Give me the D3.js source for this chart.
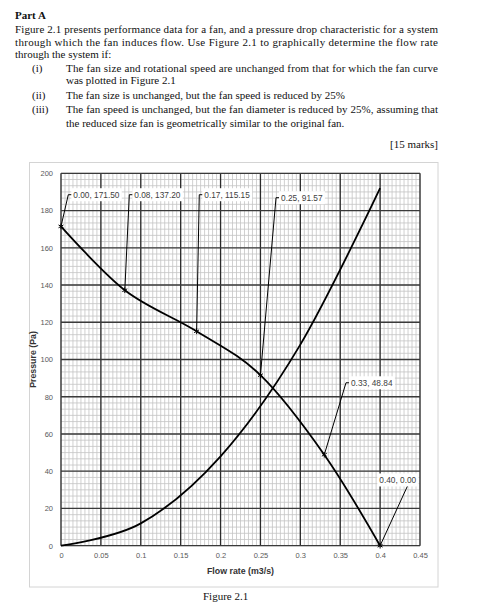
<!DOCTYPE html>
<html><head><meta charset="utf-8">
<script src="https://cdn.jsdelivr.net/npm/d3@7"></script>
<style>
html,body{margin:0;padding:0;background:#fff;}
svg{display:block;}
</style></head>
<body>
<svg id="c" width="478" height="611"></svg>
<script>
// ---- data ----
const fanFlow = [0.00, 0.08, 0.17, 0.25, 0.33, 0.40];
const fanPressure = [171.50, 137.20, 115.15, 91.57, 48.84, 0.00];
const sysFlow = [0, 0.1, 0.2, 0.3, 0.4];
const sysPressure = [0, 12, 48, 108, 192];
const xTicks = [0, 0.05, 0.1, 0.15, 0.2, 0.25, 0.3, 0.35, 0.4, 0.45];
const xTickLabels = ["0", "0.05", "0.1", "0.15", "0.2", "0.25", "0.3", "0.35", "0.4", "0.45"];
const yTicks = [0, 20, 40, 60, 80, 100, 120, 140, 160, 180, 200];
// label anchor positions (data units) for the data callouts
const labelX = [0.0154, 0.0919, 0.1796, 0.2758, 0.3635, 0.399];
const labelY = [188.5, 188.5, 188.5, 186.9, 87.5, 35.3];

const svg = d3.select("#c");
const serif = "'Liberation Serif','Times New Roman',serif";
const sans = "'Liberation Sans',Arial,sans-serif";
const narrow = "'Liberation Sans Narrow','Liberation Sans',Arial,sans-serif";

// ---- question text ----
const T = svg.append("g").attr("font-family", serif).attr("font-size", 11).attr("fill", "#111");
T.append("text").attr("x", 15).attr("y", 19).attr("font-weight", "bold").text("Part A");
const lines = [
  {x:15, y:32.5, t:"Figure 2.1 presents performance data for a fan, and a pressure drop characteristic for a system", w:423},
  {x:15, y:45.5, t:"through which the fan induces flow. Use Figure 2.1 to graphically determine the flow rate", w:423},
  {x:15, y:58, t:"through the system if:"},
  {x:32, y:71.5, t:"(i)"},
  {x:66, y:71.5, t:"The fan size and rotational speed are unchanged from that for which the fan curve", w:372},
  {x:66, y:84, t:"was plotted in Figure 2.1"},
  {x:32, y:99, t:"(ii)"},
  {x:66, y:99, t:"The fan size is unchanged, but the fan speed is reduced by 25%"},
  {x:32, y:112.5, t:"(iii)"},
  {x:66, y:112.5, t:"The fan speed is unchanged, but the fan diameter is reduced by 25%, assuming that", w:372},
  {x:66, y:126.5, t:"the reduced size fan is geometrically similar to the original fan."}
];
lines.forEach(l => {
  const e = T.append("text").attr("x", l.x).attr("y", l.y).text(l.t);
  if (l.w) e.attr("textLength", l.w).attr("lengthAdjust", "spacing");
});
T.append("text").attr("x", 438).attr("y", 147.5).attr("text-anchor", "end").text("[15 marks]");

// ---- chart frame ----
svg.append("rect").attr("x", 29.5).attr("y", 162.5).attr("width", 408.5).attr("height", 424.5)
  .attr("fill", "none").attr("stroke", "#d4d4d4").attr("stroke-width", 1);

// ---- scales ----
const x = d3.scaleLinear().domain([0, 0.45]).range([61, 420]);
const y = d3.scaleLinear().domain([0, 200]).range([545.7, 173.3]);

// grid
const G = svg.append("g");
const minorX = d3.range(0, 91).map(i => i * 0.005);
const minorY = d3.range(0, 61).map(i => i * 20 / 6);
G.selectAll("line.mx").data(minorX).join("line")
  .attr("x1", d => x(d)).attr("x2", d => x(d)).attr("y1", y(0)).attr("y2", y(200))
  .attr("stroke", "#c4c4c4").attr("stroke-width", 0.8);
G.selectAll("line.my").data(minorY).join("line")
  .attr("y1", d => y(d)).attr("y2", d => y(d)).attr("x1", x(0)).attr("x2", x(0.45))
  .attr("stroke", "#c4c4c4").attr("stroke-width", 0.8);
G.selectAll("line.Mx").data(xTicks).join("line")
  .attr("x1", d => x(d)).attr("x2", d => x(d)).attr("y1", y(0)).attr("y2", y(200))
  .attr("stroke", "#2a2a2a").attr("stroke-width", 1.3);
G.selectAll("line.My").data(yTicks).join("line")
  .attr("y1", d => y(d)).attr("y2", d => y(d)).attr("x1", x(0)).attr("x2", x(0.45))
  .attr("stroke", "#3a3a3a").attr("stroke-width", 1.3);

// axes
const ax = svg.append("g").attr("transform", `translate(0,${y(0)})`)
  .call(d3.axisBottom(x).tickValues(xTicks).tickFormat((d, i) => xTickLabels[i]).tickSize(0).tickPadding(7));
const ay = svg.append("g").attr("transform", `translate(${x(0)},0)`)
  .call(d3.axisLeft(y).tickValues(yTicks).tickSize(0).tickPadding(8));
[ax, ay].forEach(a => {
  a.select(".domain").remove();
  a.selectAll("text").attr("font-family", sans).attr("font-size", 7.5).attr("fill", "#595959");
});

// axis titles
svg.append("text").attr("x", 240.5).attr("y", 574).attr("text-anchor", "middle")
  .attr("font-family", narrow).attr("font-size", 8.8).attr("font-weight", "bold").attr("fill", "#333")
  .text("Flow rate (m3/s)");
svg.append("text").attr("transform", "translate(36,359.5) rotate(-90)").attr("text-anchor", "middle")
  .attr("font-family", narrow).attr("font-size", 8.8).attr("font-weight", "bold").attr("fill", "#333")
  .text("Pressure (Pa)");

// curves
const line = d3.line().x(d => x(d[0])).y(d => y(d[1])).curve(d3.curveCatmullRom.alpha(0));
const sysData = sysFlow.map((f, i) => [f, sysPressure[i]]);
const fanData = fanFlow.map((f, i) => [f, fanPressure[i]]);
svg.append("path").attr("d", line(sysData)).attr("fill", "none").attr("stroke", "#000").attr("stroke-width", 1.8);
svg.append("path").attr("d", line(fanData)).attr("fill", "none").attr("stroke", "#000").attr("stroke-width", 1.8);

// markers
const sym = d3.symbol().type(d3.symbolAsterisk).size(22);
svg.selectAll("path.mk").data(fanData).join("path")
  .attr("transform", d => `translate(${x(d[0])},${y(d[1])})`)
  .attr("d", sym).attr("fill", "none").attr("stroke", "#000").attr("stroke-width", 1);

// data labels with leader lines
const L = svg.append("g");
fanData.forEach((d, i) => {
  const tx = x(labelX[i]), ty = y(labelY[i]);
  const t = L.append("text").attr("x", tx).attr("y", ty + 3)
    .attr("font-family", sans).attr("font-size", 8.3).attr("fill", "#404040")
    .text(d[0].toFixed(2) + ", " + d[1].toFixed(2));
  const bb = t.node().getBBox();
  L.insert("rect", "text").attr("x", bb.x - 2).attr("y", bb.y - 1.5)
    .attr("width", bb.width + 4).attr("height", bb.height + 3).attr("fill", "#fff");
  const px = x(d[0]), py = y(d[1]);
  let path;
  if (i === fanData.length - 1) {
    const sx = bb.x + bb.width * 0.75, sy = bb.y + bb.height + 1.5;
    path = `M${sx},${sy}L${px},${py}`;
  } else {
    const sx = bb.x - 2, sy = ty;
    path = `M${sx},${sy}L${sx - 3},${sy}L${px},${py}`;
  }
  L.append("path").attr("d", path).attr("fill", "none").attr("stroke", "#000").attr("stroke-width", 1);
});

// caption
svg.append("text").attr("x", 203).attr("y", 600).attr("font-family", serif).attr("font-size", 11)
  .attr("fill", "#111").text("Figure 2.1");
</script>
</body></html>
